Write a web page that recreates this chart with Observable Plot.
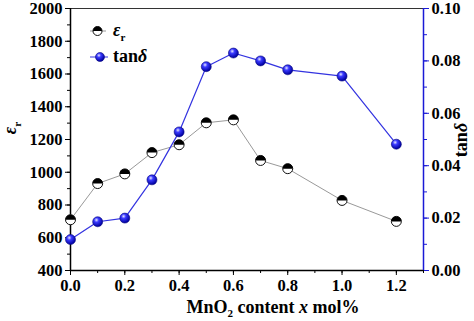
<!DOCTYPE html>
<html>
<head>
<meta charset="utf-8">
<script src="https://cdn.jsdelivr.net/npm/d3@7"></script>
<script src="https://cdn.jsdelivr.net/npm/@observablehq/plot@0.6"></script>
<style>
  html, body { margin: 0; padding: 0; background: #fff; }
  #chart { width: 474px; height: 321px; }
  #chart svg, #chart svg text { font-family: 'Liberation Serif', 'Times New Roman', serif !important; }
</style>
</head>
<body>
<div id="chart"></div>
<script>
// Data
const content = [0.0, 0.1, 0.2, 0.3, 0.4, 0.5, 0.6, 0.7, 0.8, 1.0, 1.2];
const epsilonR = [710, 931, 990, 1120, 1168, 1302, 1320, 1072, 1022, 828, 700];
const tanDelta = [0.0118, 0.0186, 0.0200, 0.0346, 0.0529, 0.0778, 0.0830, 0.0800, 0.0766, 0.0742, 0.0482];
const leftTicks = [400, 600, 800, 1000, 1200, 1400, 1600, 1800, 2000];
const rightTicks = [0.00, 0.02, 0.04, 0.06, 0.08, 0.10];
const xTicks = [0.0, 0.2, 0.4, 0.6, 0.8, 1.0, 1.2];

// right axis maps tanδ [0, 0.1] onto the left scale [400, 2000]
const toLeft = t => 400 + t * 16000;
const fromLeft = v => (v - 400) / 16000;

const epsData = content.map((x, i) => ({x, y: epsilonR[i]}));
const tanData = content.map((x, i) => ({x, y: toLeft(tanDelta[i])}));

const blue = "#1a1ad6";
const serif = "'Liberation Serif', 'Times New Roman', serif";

// half-filled circle symbol (top half black)
const halfSymbol = {
  draw(ctx, size) {
    const r = Math.sqrt(size / Math.PI);
    ctx.moveTo(r, 0);
    ctx.arc(0, 0, r, 0, Math.PI, true);
    ctx.closePath();
  }
};

const fontSize = 16.5;

const chart = Plot.plot({
  width: 474,
  height: 321,
  marginLeft: 70,
  marginRight: 51,
  marginTop: 8,
  marginBottom: 51,
  style: {fontFamily: serif, fontSize: fontSize + "px", fontWeight: "bold", background: "#fff"},
  x: {domain: [0, 1.3], label: null},
  y: {domain: [400, 2000], label: null},
  marks: [
    // minor ticks
    Plot.axisX({ticks: d3.range(0, 14).map(i => i / 10), tickSize: 3, tickFormat: () => "", stroke: "#000", label: null}),
    Plot.axisX({ticks: xTicks, tickSize: 5, tickPadding: 4, tickFormat: d => d.toFixed(1), label: null, fill: "#000", stroke: "#000", fontSize: fontSize, fontWeight: "bold"}),
    Plot.axisY({ticks: d3.range(400, 2001, 100), tickSize: 3, tickFormat: () => "", stroke: "#000", label: null}),
    Plot.axisY({ticks: leftTicks, tickSize: 5, tickPadding: 3, tickFormat: d => String(d), label: null, fill: "#000", stroke: "#000", fontSize: fontSize, fontWeight: "bold"}),
    Plot.axisY({anchor: "right", ticks: d3.range(0, 11).map(i => toLeft(i / 100)), tickSize: 3, tickFormat: () => "", stroke: blue, label: null}),
    Plot.axisY({anchor: "right", ticks: rightTicks.map(toLeft), tickSize: 5, tickPadding: 3, tickFormat: d => fromLeft(d).toFixed(2), label: null, fill: "#000", stroke: blue, fontSize: fontSize, fontWeight: "bold"}),
    // frame
    Plot.ruleY([2000], {stroke: "#333", strokeWidth: 1.2}),
    Plot.ruleY([400], {stroke: "#000", strokeWidth: 1.5}),
    Plot.ruleX([0], {stroke: "#000", strokeWidth: 1.5}),
    Plot.ruleX([1.3], {stroke: blue, strokeWidth: 1.5}),
    // series
    Plot.line(epsData, {x: "x", y: "y", stroke: "#999", strokeWidth: 1}),
    Plot.line(tanData, {x: "x", y: "y", stroke: "#3333e0", strokeWidth: 1.2}),
    Plot.dot(epsData, {x: "x", y: "y", r: 5, fill: "#fff", stroke: "#111", strokeWidth: 1}),
    Plot.dot(epsData, {x: "x", y: "y", r: 5, symbol: halfSymbol, fill: "#000", stroke: "none"}),
    Plot.dot(tanData, {x: "x", y: "y", r: 5, fill: "url(#ballGrad)", stroke: "#0a0a80", strokeWidth: 0.6})
  ]
});

document.getElementById("chart").appendChild(chart);

const svg = d3.select(chart);
const defs = svg.insert("defs", ":first-child");
const grad = defs.append("radialGradient").attr("id", "ballGrad").attr("cx", "38%").attr("cy", "32%").attr("r", "65%");
grad.append("stop").attr("offset", "0%").attr("stop-color", "#e8e8ff");
grad.append("stop").attr("offset", "35%").attr("stop-color", "#3a3aff");
grad.append("stop").attr("offset", "100%").attr("stop-color", "#0000a0");

const g = svg.append("g").style("font-family", serif).attr("font-weight", "bold").attr("fill", "#000");

// Legend
const legend = g.append("g").attr("text-anchor", "start");
legend.append("line").attr("x1", 90).attr("x2", 106).attr("y1", 31).attr("y2", 31).attr("stroke", "#999");
legend.append("circle").attr("cx", 97.5).attr("cy", 31).attr("r", 4.5).attr("fill", "#fff").attr("stroke", "#111");
legend.append("path").attr("d", d3.arc()({innerRadius: 0, outerRadius: 4.5, startAngle: -Math.PI / 2, endAngle: Math.PI / 2})).attr("transform", "translate(97.5,31)").attr("fill", "#000");
const t1 = legend.append("text").attr("x", 113).attr("y", 36).attr("font-size", 18);
t1.append("tspan").attr("font-style", "italic").text("ε");
t1.append("tspan").attr("font-size", 11).attr("dy", 5).text("r");

legend.append("line").attr("x1", 90).attr("x2", 108).attr("y1", 57).attr("y2", 57).attr("stroke", "#3333e0");
legend.append("circle").attr("cx", 100).attr("cy", 57).attr("r", 4.5).attr("fill", "url(#ballGrad)").attr("stroke", "#0a0a80").attr("stroke-width", 0.6);
const t2 = legend.append("text").attr("x", 113).attr("y", 62).attr("font-size", 18);
t2.append("tspan").text("tan");
t2.append("tspan").attr("font-style", "italic").text("δ");

// Axis titles
const yl = g.append("text").attr("transform", "translate(16,128) rotate(-90)").attr("text-anchor", "middle").attr("font-size", 18);
yl.append("tspan").attr("font-style", "italic").text("ε");
yl.append("tspan").attr("font-size", 11).attr("dy", 5).text("r");

const yr = g.append("text").attr("transform", "translate(467,140) rotate(-90)").attr("text-anchor", "middle").attr("font-size", 18);
yr.append("tspan").text("tan");
yr.append("tspan").attr("font-style", "italic").text("δ");

const xl = g.append("text").attr("x", 273).attr("y", 313).attr("text-anchor", "middle").attr("font-size", 18);
xl.append("tspan").text("MnO");
xl.append("tspan").attr("font-size", 11).attr("dy", 4).text("2");
xl.append("tspan").attr("dy", -4).text(" content ");
xl.append("tspan").attr("font-style", "italic").text("x");
xl.append("tspan").text(" mol%");
</script>
</body>
</html>
